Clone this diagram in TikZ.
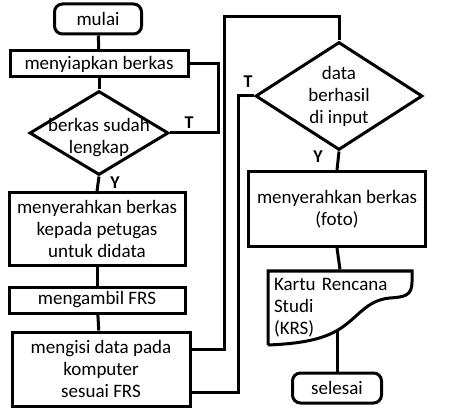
\documentclass[tikz,border=0pt]{standalone}
\usepackage{fontspec}
\setmainfont{Carlito}
\usetikzlibrary{shapes.geometric}

\begin{document}
\begin{tikzpicture}[x=1pt,y=-1pt,line width=3pt,
    every node/.append style={font=\fontsize{19}{22}\selectfont, inner sep=0pt},
    terminal/.style={draw, rounded corners=8pt, minimum width=87pt, minimum height=30pt},
    process/.style={draw, align=center, minimum width=176pt},
    decision/.style={draw, diamond},
    answer/.style={font=\fontsize{18}{20}\selectfont\bfseries}
  ]
  \useasboundingbox (0,0) rectangle (449,419);
  % Left column
  \node[terminal] (mulai) at (98,19) {mulai};
  \node[process, minimum width=178pt, minimum height=26pt] (siap) at (99,64) {menyiapkan berkas};
  \node[decision, minimum width=139pt, minimum height=84pt] (lengkap) at (99,133) {};
  \node[align=center] (lengkap-teks) at (99,138) {berkas sudah\\lengkap};
  \node[process, minimum height=73pt] (serah) at (97,229) {menyerahkan berkas\\kepada petugas\\untuk didata};
  \node[process, minimum height=26pt] (ambil) at (97,300) {mengambil FRS};
  \node[process, minimum width=178pt, minimum height=74pt] (isi) at (101,369) {mengisi data pada\\komputer\\sesuai FRS};
  %
  % Right column
  \node[decision, minimum width=167pt, minimum height=108pt] (input) at (339,96) {};
  \node[align=center] (input-teks) at (339,96) {data\\berhasil\\di input};
  \node[process, minimum width=177pt, minimum height=75pt] (foto) at (337,209) {menyerahkan berkas\\(foto)};
  \node[align=left, text width=132pt, minimum height=74pt] (krs) at (340,308) {Kartu Rencana\\Studi\\(KRS)};
  \coordinate (krs-out) at (337,331);
  \node[terminal, minimum width=89pt] (selesai) at (337,388) {selesai};
  %
  % Document outline
  \draw (268,345) -- (268,271) -- (412,271) -- (412,282)
    .. controls (412,296) and (404,297) .. (390,298)
    .. controls (366,300) and (358,318) .. (338,330)
    .. controls (318,342) and (290,344) .. (268,345);
  %
  % Connectors
  \draw (mulai) -- (siap);
  \draw (siap) -- (lengkap);
  \draw (lengkap.east) -- ++(48,0) |- (siap.east);
  \draw (lengkap.south) -- (serah.north);
  \draw (serah) -- (ambil);
  \draw (ambil) -- (isi);
  \draw ([yshift=20pt]isi.east) -- ++(33,0) |- ([yshift=24pt]input.north) -- (input.north);
  \draw ([yshift=-23pt]isi.east) -- ++(47,0) |- (input.west);
  \draw (input.south) -- (foto.north);
  \draw (foto.south) -- (krs.north);
  \draw (krs-out) -- (selesai.north);
  %
  % Answers
  \node[answer] (tidak1) at (189,123) {T};
  \node[answer] (ya1) at (115,183) {Y};
  \node[answer] (tidak2) at (248,82) {T};
  \node[answer] (ya2) at (318,157) {Y};
\end{tikzpicture}
\end{document}
